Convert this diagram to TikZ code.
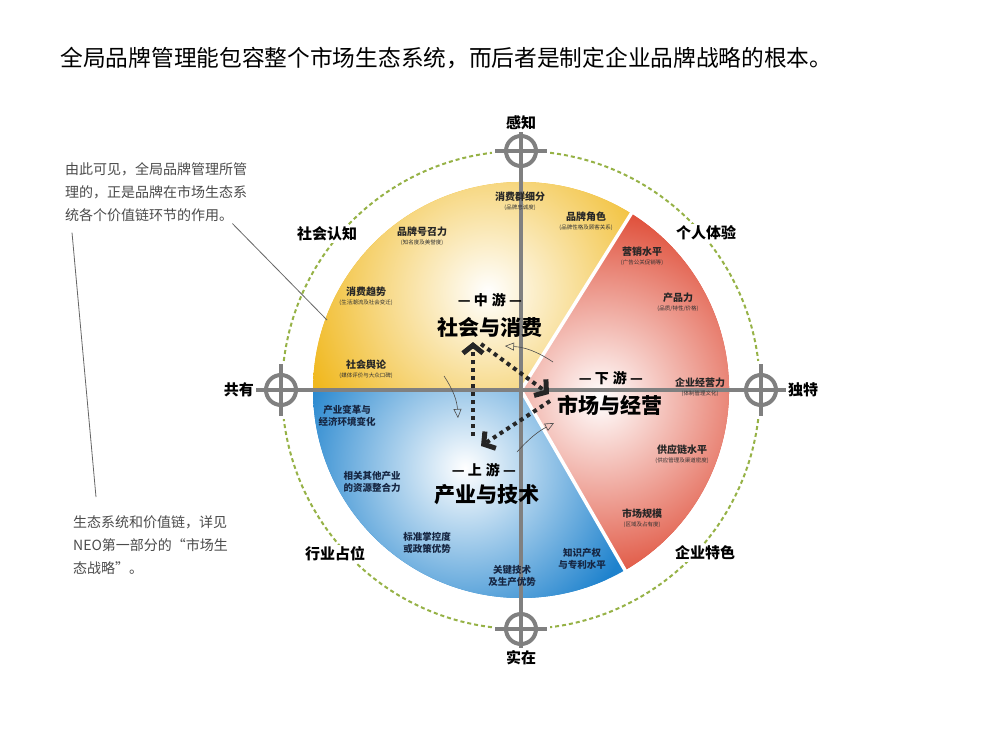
\documentclass[tikz,border=0pt]{standalone}
\usepackage{fontspec}
\setmainfont{Noto Sans CJK SC}
\usetikzlibrary{positioning,arrows.meta,calc}

\definecolor{yelrim}{RGB}{240,184,30}
\definecolor{redrim}{RGB}{222,72,50}
\definecolor{bluerim}{RGB}{30,130,205}
\definecolor{axgray}{RGB}{128,128,128}
\definecolor{dashgreen}{RGB}{150,178,70}
\definecolor{notegray}{RGB}{75,75,75}
\definecolor{navy}{RGB}{22,38,66}

\tikzstyle{axis}=[line width=4pt, draw=axgray]
\tikzstyle{xhair}=[circle, draw=axgray, line width=4pt, minimum size=30pt, inner sep=0pt]
\tikzstyle{ring}=[draw=dashgreen, line width=2pt, dash pattern=on 4pt off 3pt]
\tikzstyle{gap}=[draw=white, line width=3.5pt]
\tikzstyle{quad}=[font=\fontsize{15}{18}\selectfont\bfseries, fill=white, inner sep=2pt]
\tikzstyle{segname}=[font=\fontsize{10}{12}\selectfont\bfseries, inner sep=0pt, text=black!85]
\tikzstyle{segcap}=[font=\fontsize{5.5}{7}\selectfont, inner sep=0pt, text=black!80]
\tikzstyle{bluetext}=[font=\fontsize{9.5}{12.5}\selectfont\bfseries, align=center, inner sep=0pt, text=navy]
\tikzstyle{stream}=[font=\fontsize{14}{16}\selectfont\bfseries, inner sep=0pt]
\tikzstyle{bigname}=[font=\fontsize{21}{24}\selectfont\bfseries, inner sep=0pt]
\tikzstyle{flow}=[line width=4pt, dash pattern=on 4pt off 4pt, draw=black!85, -{Straight Barb[length=8pt,width=20pt,line width=5pt]}]
\tikzstyle{back}=[line width=0.6pt, draw=black!70, -{Triangle[open,length=9pt,width=8pt]}]
\tikzstyle{note}=[font=\fontsize{14}{23}\selectfont, text=notegray, align=left, inner sep=0pt, anchor=north west]
\tikzstyle{lead}=[draw=black!60, line width=0.8pt]

\newcommand\segnode[4]{
    \node (#1) [segname] at (#2) {#3};
    \node (#1c) [segcap, below=3pt of #1] {(#4)};
}

\begin{document}
\begin{tikzpicture}[x=1pt, y=-1pt]
\fill[white] (0,0) rectangle (1003,731);
\useasboundingbox (0,0) rectangle (1003,731);

\node (title) [anchor=west, font=\fontsize{22.7}{26}\selectfont] at (57,58) {全局品牌管理能包容整个市场生态系统，而后者是制定企业品牌战略的根本。};

\coordinate (o) at (521,390);

% yellow: society and consumption
\begin{scope}
  \clip (o) -- ++(-58:208) arc[start angle=-58, end angle=-180, radius=208] -- cycle;
  \fill[yelrim] (o) circle (210);
  \shade[inner color=white, outer color=yelrim] (488,292) circle (195);
\end{scope}
% red: market and operation
\begin{scope}
  \clip (o) -- ++(60:208) arc[start angle=60, end angle=-58, radius=208] -- cycle;
  \fill[redrim] (o) circle (210);
  \shade[inner color=white, outer color=redrim] (600,398) circle (195);
\end{scope}
% blue: industry and technology
\begin{scope}
  \clip (o) -- ++(-180:208) arc[start angle=-180, end angle=-300, radius=208] -- cycle;
  \fill[bluerim] (o) circle (210);
  \shade[inner color=white, outer color=bluerim] (465,468) circle (180);
\end{scope}
\draw[gap] (o) -- ++(-58:212);
\draw[gap] (o) -- ++(60:212);

% dashed ring
\foreach \a in {0,90,180,270}
  \draw[ring] ($(o)+(\a+7:239)$) arc[start angle=\a+7, end angle=\a+83, radius=239];

% crosshairs and axes
\foreach \n/\x/\y in {ctop/521/151, cbot/521/629, cleft/281/390, cright/761/390}{
  \node (\n) [xhair] at (\x,\y) {};
  \draw[axis] ([xshift=-9pt]\n.west) -- ([xshift=9pt]\n.east);
  \draw[axis] ([yshift=9pt]\n.north) -- ([yshift=-9pt]\n.south);
}
\draw[axis] ([yshift=9pt]ctop.north) -- ([yshift=-9pt]cbot.south);
\draw[axis] ([xshift=-9pt]cleft.west) -- ([xshift=9pt]cright.east);

\node (ganzhi) [quad, above=2pt of ctop.north] {感知};
\node (shizai) [quad, below=2pt of cbot.south] {实在};
\node (gongyou) [quad, left=8pt of cleft.west] {共有};
\node (dute) [quad, right=8pt of cright.east] {独特};
\node (renzhi) [quad] at (327,234) {社会认知};
\node (tiyan) [quad] at (706,233) {个人体验};
\node (zhanwei) [quad] at (335,554) {行业占位};
\node (tese) [quad] at (705,553) {企业特色};

% yellow labels
\segnode{qunxi}{520,197}{消费群细分}{品牌忠诚度}
\segnode{juese}{586,217}{品牌角色}{品牌性格及顾客关系}
\segnode{haozhao}{422,232}{品牌号召力}{知名度及美誉度}
\segnode{qushi}{366,292}{消费趋势}{生活潮流及社会变迁}
\segnode{yulun}{366,365}{社会舆论}{媒体评价与大众口碑}
% red labels
\segnode{yingxiao}{642,252}{营销水平}{广告公关促销等}
\segnode{chanpin}{678,298}{产品力}{品质/特性/价格}
\segnode{jingying}{700,383}{企业经营力}{体制管理文化}
\segnode{gongying}{682,450}{供应链水平}{供应管理及渠道密度}
\segnode{guimo}{642,514}{市场规模}{区域及占有度}
% blue labels
\node (biange) [bluetext] at (347,416) {产业变革与\\经济环境变化};
\node (zhenghe) [bluetext] at (372,482) {相关其他产业\\的资源整合力};
\node (biaozhun) [bluetext] at (427,543) {标准掌控度\\或政策优势};
\node (guanjian) [bluetext] at (512,576) {关键技术\\及生产优势};
\node (zhuanli) [bluetext] at (582,559) {知识产权\\与专利水平};

% three streams
\node (zhong) [stream] at (490,300) {—\ 中\hspace{4pt}游\ —};
\node (shehui) [bigname] at (490,327) {社会与消费};
\node (xia) [stream] at (611,378) {—\ 下\hspace{4pt}游\ —};
\node (shichang) [bigname] at (610,405) {市场与经营};
\node (shang) [stream] at (484,470) {—\ 上\hspace{4pt}游\ —};
\node (chanye) [bigname] at (487,495) {产业与技术};

\coordinate (upA) at (473,436);
\coordinate (midA) at (473,342);
\coordinate (midB) at (481,344);
\coordinate (dnB) at (549,394);
\coordinate (dnC) at (550,401);
\coordinate (upC) at (481,446);
\draw[flow] (upA) -- (midA);
\draw[flow] (midB) -- (dnB);
\draw[flow] (dnC) -- (upC);

% feedback arrows
\coordinate (bk1s) at (444,376);
\coordinate (bk1e) at (458,418);
\coordinate (bk2s) at (553,362);
\coordinate (bk2e) at (505,346);
\coordinate (bk3s) at (517,452);
\coordinate (bk3e) at (554,423);
\draw[back] (bk1s) to[bend left=15] (bk1e);
\draw[back] (bk2s) to[bend right=15] (bk2e);
\draw[back] (bk3s) to[bend left=10] (bk3e);

% side notes
\node (note1) [note] at (65,162) {由此可见，全局品牌管理所管\\理的，正是品牌在市场生态系\\统各个价值链环节的作用。};
\node (note2) [note] at (73,515) {生态系统和价值链，详见\\NEO第一部分的“市场生\\态战略”。};
\coordinate (rimpt) at (327,320);
\draw[lead] ([shift={(-15pt,-2pt)}]note1.south east) -- (rimpt);
\draw[lead] ([shift={(7pt,-11pt)}]note1.south west) -- ([shift={(23pt,18pt)}]note2.north west);

\end{tikzpicture}
\end{document}
